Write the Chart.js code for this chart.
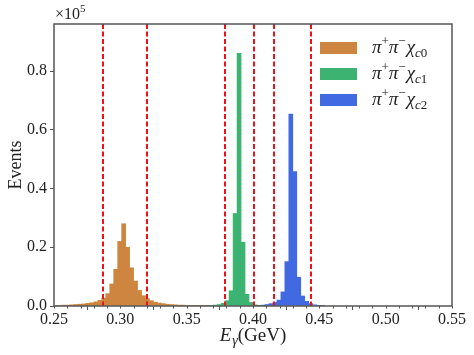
<!DOCTYPE html>
<html><head><meta charset="utf-8">
<script src="https://cdn.jsdelivr.net/npm/chart.js@4.4.0/dist/chart.umd.min.js"></script>
<style>html,body{margin:0;padding:0;background:#fff}#wrap{width:474px;height:355px}</style>
</head><body><div id="wrap"><canvas id="c" width="474" height="355"></canvas></div>
<script>
// Histogram binning (GeV)
const binLow = 0.25;
const binWidth = 0.003;
// Events per bin, in units of 1e5
const chic0Start = 0;
const chic0Values = [0.002,0.002,0.003,0.003,0.004,0.005,0.006,0.007,0.009,0.011,0.014,0.019,0.027,0.042,0.075,0.125,0.22,0.28,0.20,0.13,0.085,0.053,0.035,0.025,0.018,0.013,0.010,0.008,0.006,0.005,0.004,0.003,0.003,0.002,0.002,0.0015,0.001,0.001,0.0008];
const chic1Start = 38;
const chic1Values = [0.001,0.002,0.003,0.005,0.009,0.018,0.052,0.315,0.86,0.217,0.04,0.012,0.004,0.002,0.001];
const chic2Start = 50;
const chic2Values = [0.001,0.002,0.003,0.005,0.008,0.012,0.02,0.048,0.151,0.653,0.458,0.098,0.034,0.016,0.008,0.004,0.002,0.001];
const seriesLabels = ['π+π−χc0','π+π−χc1','π+π−χc2'];
const seriesSubs = ['c0','c1','c2'];
const seriesColors = ['#CD853F','#3CB371','#4169E1'];
const xTicks = [0.25,0.30,0.35,0.40,0.45,0.50,0.55];
const xMinorStep = 0.01;
const yTicks = [0.0,0.2,0.4,0.6,0.8];
const cutLines = [0.287,0.320,0.379,0.401,0.416,0.444];

const FONT = "'Liberation Serif', 'DejaVu Serif', serif";
Chart.defaults.font.family = FONT;

function toPoints(start, vals){
  return vals.map((v,i)=>({x: binLow + binWidth*(start+i+0.5), y: v}));
}

function drawRich(ctx, x, y, parts){
  let cx = x;
  for(const p of parts){
    ctx.font = p.f;
    ctx.fillText(p.t, cx, y + (p.dy||0));
    cx += ctx.measureText(p.t).width + (p.sp||0);
  }
  return cx;
}

const overlay = {
  id:'overlay',
  afterDatasetsDraw(chart){
    const ctx = chart.ctx, a = chart.chartArea, xs = chart.scales.x;
    ctx.save();
    ctx.strokeStyle = '#e8141c';
    ctx.lineWidth = 2;
    ctx.setLineDash([5,2.5]);
    for(const v of cutLines){
      const px = Math.round(xs.getPixelForValue(v));
      ctx.beginPath(); ctx.moveTo(px, a.top); ctx.lineTo(px, a.bottom); ctx.stroke();
    }
    ctx.restore();
  },
  afterDraw(chart){
    const ctx = chart.ctx, a = chart.chartArea, xs = chart.scales.x;
    ctx.save();
    ctx.strokeStyle = '#555';
    ctx.lineWidth = 1.5;
    ctx.strokeRect(a.left, a.top, a.right-a.left, a.bottom-a.top);
    ctx.lineWidth = 1;
    for(let v = xTicks[0]; v <= xTicks[xTicks.length-1]+1e-9; v += xMinorStep){
      const px = Math.round(xs.getPixelForValue(v))+0.5;
      ctx.beginPath(); ctx.moveTo(px, a.bottom); ctx.lineTo(px, a.bottom+2.5); ctx.stroke();
    }
    ctx.fillStyle = '#222';
    ctx.textBaseline = 'alphabetic';
    ctx.textAlign = 'left';
    drawRich(ctx, 55, 19, [{t:'×10', f:'16px '+FONT},{t:'5', f:'11px '+FONT, dy:-7}]);
    const xt = [{t:'E', f:'italic 19px '+FONT, sp:1},{t:'γ', f:'italic 14px '+FONT, dy:4},{t:'(GeV)', f:'19px '+FONT}];
    let w = 0; for(const p of xt){ctx.font=p.f; w += ctx.measureText(p.t).width+(p.sp||0);}
    drawRich(ctx, (a.left+a.right)/2 - w/2, 341, xt);
    ctx.save();
    ctx.translate(21, 165);
    ctx.rotate(-Math.PI/2);
    ctx.font = '18px '+FONT;
    ctx.textAlign = 'center';
    ctx.fillText('Events', 0, 0);
    ctx.restore();
    const rows = [48, 74, 100];
    for(let i=0;i<3;i++){
      ctx.fillStyle = seriesColors[i];
      ctx.fillRect(320, rows[i]-6, 37, 12);
      ctx.fillStyle = '#222';
      const sub = seriesSubs[i];
      drawRich(ctx, 372, rows[i]+5, [
        {t:'π', f:'italic 19px '+FONT},
        {t:'+', f:'13px '+FONT, dy:-8},
        {t:'π', f:'italic 19px '+FONT},
        {t:'−', f:'13px '+FONT, dy:-8, sp:1},
        {t:'χ', f:'italic 19px '+FONT},
        {t:sub[0], f:'italic 13px '+FONT, dy:4},
        {t:sub.slice(1), f:'13px '+FONT, dy:4}
      ]);
    }
    ctx.restore();
  }
};

const ds = [
  {label: seriesLabels[0], data: toPoints(chic0Start, chic0Values), backgroundColor: seriesColors[0]},
  {label: seriesLabels[1], data: toPoints(chic1Start, chic1Values), backgroundColor: seriesColors[1]},
  {label: seriesLabels[2], data: toPoints(chic2Start, chic2Values), backgroundColor: seriesColors[2]}
].map(d=>Object.assign(d,{borderWidth:0, barPercentage:1, categoryPercentage:1, grouped:false}));

new Chart(document.getElementById('c'), {
  type:'bar',
  data:{datasets: ds},
  options:{
    responsive:false,
    animation:false,
    devicePixelRatio:1,
    layout:{padding:{top:24, right:22, left:0, bottom:0}},
    plugins:{legend:{display:false}, tooltip:{enabled:false}},
    scales:{
      x:{
        type:'linear', min:0.25, max:0.55, offset:false,
        afterBuildTicks(s){ s.ticks = xTicks.map(v=>({value:v})); },
        afterFit(s){ s.height = 49; },
        grid:{drawOnChartArea:false, drawTicks:true, tickLength:4, color:'#555'},
        border:{display:false},
        ticks:{callback:v=>v.toFixed(2), color:'#222', font:{size:16, family:FONT}, padding:0, maxRotation:0, autoSkip:false}
      },
      y:{
        type:'linear', min:0, max:0.96,
        afterBuildTicks(s){ s.ticks = yTicks.map(v=>({value:v})); },
        afterFit(s){ s.width = 54; },
        grid:{drawOnChartArea:false, drawTicks:true, tickLength:4, color:'#555'},
        border:{display:false},
        ticks:{callback:v=>v.toFixed(1), color:'#222', font:{size:16, family:FONT}, padding:3}
      }
    }
  },
  plugins:[overlay]
});
</script></body></html>
